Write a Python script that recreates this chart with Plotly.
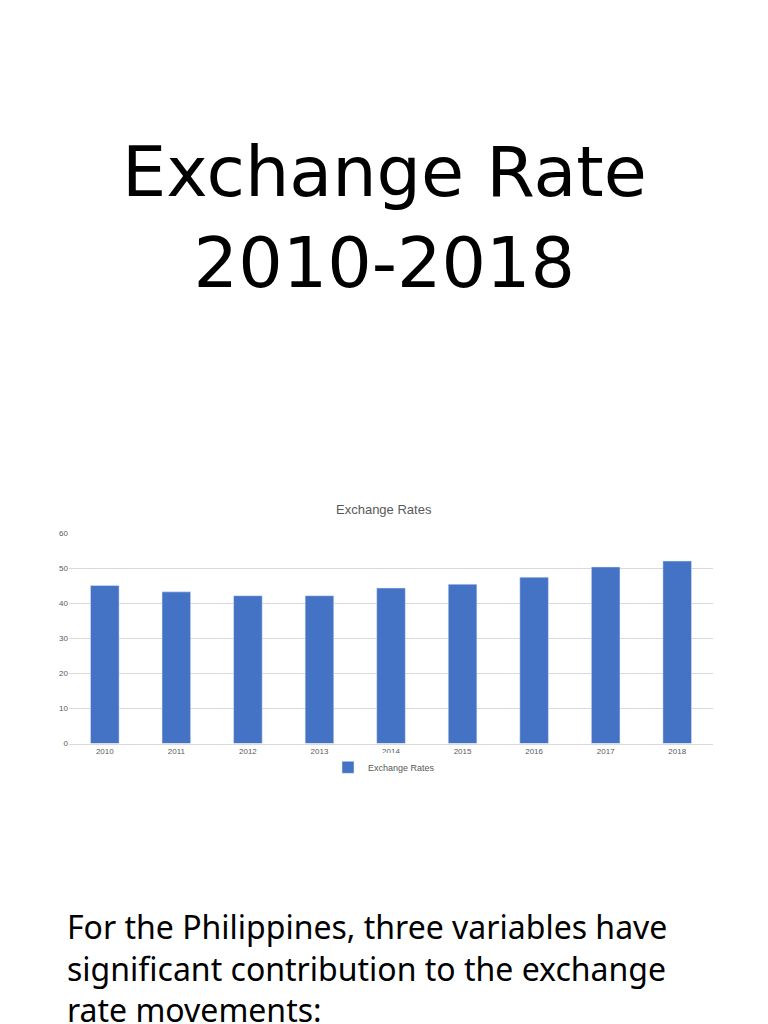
import plotly.graph_objects as go

years = ["2010","2011","2012","2013","2014","2015","2016","2017","2018"]
rates = [45.1, 43.3, 42.2, 42.2, 44.4, 45.5, 47.5, 50.4, 52.1]

W, H = 768, 1024
dx, dy = 7, 7
fig = go.Figure(go.Bar(x=years, y=rates, name="Exchange Rates", marker_color="#4472C4", width=0.4))
fig.update_layout(
    width=W, height=H, margin=dict(l=0, r=0, t=0, b=0),
    paper_bgcolor="white", plot_bgcolor="white",
    showlegend=True,
    legend=dict(orientation="h", x=(383-dx)/W, xanchor="center", y=1-(769-dy)/H, yanchor="middle",
                font=dict(size=9, color="#595959", family="Liberation Sans"), itemwidth=30),
    xaxis=dict(domain=[(68-dx)/W, (712-dx)/W], tickfont=dict(size=8, color="#595959"), showline=True,
               linecolor="#d9d9d9", ticks=""),
    yaxis=dict(domain=[1-(745-dy)/H, 1-(533-dy)/H], range=[0, 60], dtick=10, gridcolor="#d9d9d9",
               tickfont=dict(size=8, color="#595959"), zeroline=False, showgrid=True),
    font=dict(family="Liberation Sans"),
    annotations=[
        dict(text="Exchange Rates", x=(383-dx)/W, y=1-(509-dy)/H, xref="paper", yref="paper", showarrow=False,
             font=dict(size=13, color="#595959")),
        dict(text="Exchange Rate<br>2010-2018", x=(383-dx)/W, y=1-(125-dy)/H, xref="paper", yref="paper", showarrow=False,
             font=dict(size=70, color="black", family="DejaVu Sans")),
        dict(text="For the Philippines, three variables have<br>significant contribution to the exchange<br>rate movements:",
             x=(64-dx)/W, y=1-(906-dy)/H, xref="paper", yref="paper", xanchor="left", yanchor="top", align="left",
             showarrow=False, font=dict(size=32, color="black", family="Noto Sans")),
    ],
)
fig.write_html("out.html")
